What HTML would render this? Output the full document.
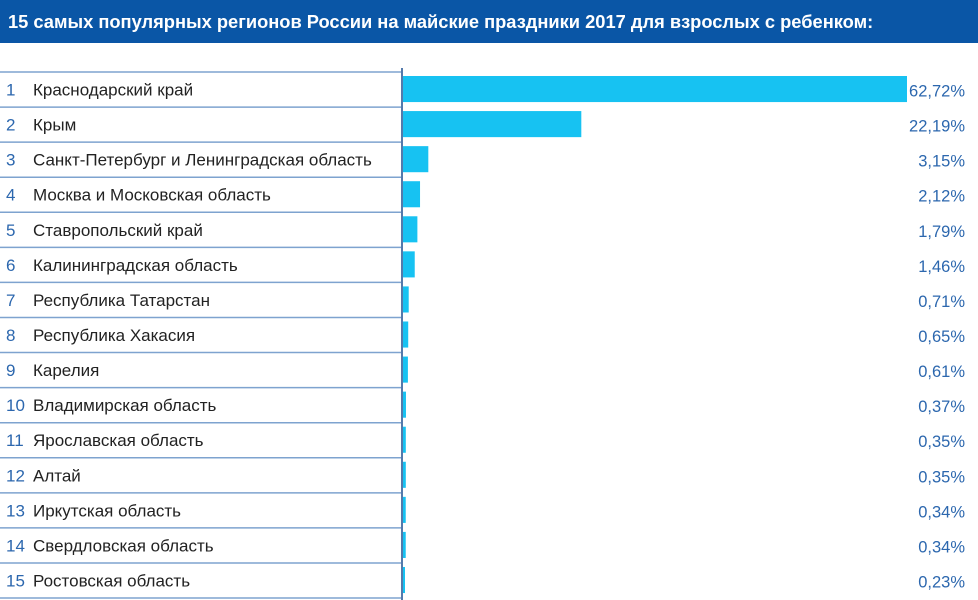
<!DOCTYPE html>
<html><head><meta charset="utf-8"><style>
body{margin:0;width:978px;height:600px;overflow:hidden;background:#fff;font-family:"Liberation Sans","DejaVu Sans",sans-serif;position:relative}
#hdr{position:absolute;left:0;top:0;width:978px;height:43px;background:#0a56a6;}
#hdr span{position:absolute;left:8px;top:11px;color:#fff;font-weight:bold;font-size:18.3px;letter-spacing:0}
</style></head><body>
<div id="hdr"><span>15 самых популярных регионов России на майские праздники 2017 для взрослых с ребенком:</span></div>
<svg id="chart" width="978" height="600" style="position:absolute;left:0;top:0"></svg>
<script>
const categories=["Краснодарский край","Крым","Санкт-Петербург и Ленинградская область","Москва и Московская область","Ставропольский край","Калининградская область","Республика Татарстан","Республика Хакасия","Карелия","Владимирская область","Ярославская область","Алтай","Иркутская область","Свердловская область","Ростовская область"];
const values=[62.72,22.19,3.15,2.12,1.79,1.46,0.71,0.65,0.61,0.37,0.35,0.35,0.34,0.34,0.23];
const labels=["62,72%","22,19%","3,15%","2,12%","1,79%","1,46%","0,71%","0,65%","0,61%","0,37%","0,35%","0,35%","0,34%","0,34%","0,23%"];
const svg=document.getElementById('chart');const NS='http://www.w3.org/2000/svg';
const x0=403,pxPer=(907-403)/62.72,top0=72,rowH=35.07;
const x=v=>v*pxPer;const y=i=>top0+i*rowH;
function mk(t,a){const e=document.createElementNS(NS,t);for(const k in a)e.setAttribute(k,a[k]);svg.appendChild(e);return e;}
categories.forEach((c,i)=>{
 const ln=mk('line',{x1:0,x2:401,y1:y(i),y2:y(i),stroke:'#7ea3cf','stroke-width':1.5});
 
 
 const n=mk('text',{x:6,y:y(i)+rowH/2+6,'font-size':17,fill:'#2c67ae'});n.textContent=String(i+1);
 
 
 const t=mk('text',{x:33,y:y(i)+rowH/2+6,'font-size':17,fill:'#222'});t.textContent=c;
 
 
 const b=mk('rect',{x:x0,y:y(i)+4,width:Math.max(x(values[i]),2),height:rowH-9,fill:'#17c2f2'});
 
 
 const v=mk('text',{x:965,y:y(i)+rowH/2+7,'font-size':16.5,fill:'#2c67ae','text-anchor':'end'});v.textContent=labels[i];
 
 
});
const last=mk('line',{x1:0,x2:401,y1:y(15),y2:y(15),stroke:'#7ea3cf','stroke-width':1.5});


const ax=mk('line',{x1:402,x2:402,y1:68,y2:600,stroke:'#1b4f8f','stroke-width':1.5});


</script>
</body></html>
